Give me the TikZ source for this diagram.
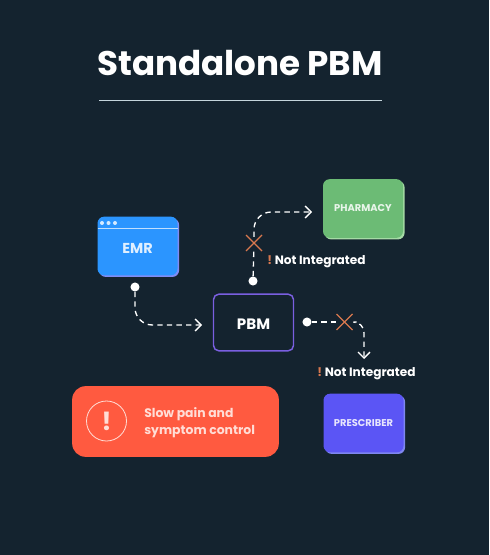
\documentclass[tikz,border=0pt]{standalone}
\usepackage{fontspec}
\setmainfont{Poppins}
\newfontfamily\semifont{Poppins}[UprightFont=* Bold]
\usepackage{tikz}
\usetikzlibrary{arrows.meta,shapes.misc,positioning,calc}
\definecolor{bgdark}{HTML}{14232F}
\definecolor{emrblue}{HTML}{2B95FF}
\definecolor{emredge}{HTML}{7F8CF5}
\definecolor{pbmline}{HTML}{7A5FE0}
\definecolor{pharmgreen}{HTML}{6CBB75}
\definecolor{pharmedge}{HTML}{A5DBA5}
\definecolor{prescblue}{HTML}{5B55F5}
\definecolor{prescedge}{HTML}{7E86F0}
\definecolor{alertred}{HTML}{FF5A40}
\definecolor{alertpink}{HTML}{FFDDD6}
\definecolor{crossorange}{HTML}{D8784F}
\definecolor{ruleline}{HTML}{C5D5DC}
\tikzset{
    appbox/.style={rounded corners=5pt, inner sep=0pt, minimum width=60pt, minimum height=44pt,
        text=#1!15!white, font=\semifont\fontsize{7.4}{10}\selectfont},
    startdot/.style={circle, fill=white, inner sep=0pt, minimum size=6.8pt},
    nolink/.style={cross out, draw=crossorange, line width=1pt, inner sep=0pt, minimum size=11pt},
    flow/.style={white, line width=1pt, dash pattern=on 4pt off 3.2pt, rounded corners=13pt,
        -{Straight Barb[length=4.5pt,width=9pt,line width=1pt]}},
    flowpart/.style={white, line width=1pt, dash pattern=on 4pt off 3.2pt},
    warnlabel/.style={white, font=\semifont\fontsize{9.1}{11}\selectfont, inner sep=0pt, anchor=west},
}
\begin{document}
\begin{tikzpicture}[x=0.75pt,y=-0.75pt]
    % Background
    \fill[bgdark] (0,0) rectangle (489,555);
    \useasboundingbox (0,0) rectangle (489,555);

    % Title
    \node[white, font=\semifont\fontsize{25.6}{32}\selectfont, inner sep=0pt] (title) at (240,63) {Standalone PBM};
    \draw[ruleline, line width=.7pt] (99,100.5) -- (382,100.5);

    % Boxes
    \node[appbox=emrblue, fill=emrblue, font=\semifont\fontsize{10.8}{12}\selectfont,
        preaction={fill=emredge, transform canvas={xshift=1.2pt,yshift=-1.2pt}}] (emr) at (137.5,246) {\raisebox{-6pt}[0pt][0pt]{EMR}};
    \node[appbox=pharmgreen, fill=pharmgreen, preaction={fill=pharmedge, transform canvas={xshift=1.2pt,yshift=-1.2pt}}] (pharmacy) at (363,208.5) {PHARMACY};
    \node[appbox=prescblue, fill=prescblue, preaction={fill=prescedge, transform canvas={xshift=1.2pt,yshift=-1.2pt}}] (prescriber) at (363.5,423) {PRESCRIBER};
    \node[draw=pbmline, line width=1.1pt, rounded corners=4pt, inner sep=0pt, minimum width=60pt, minimum height=42.5pt,
        text=white, font=\semifont\fontsize{11.3}{12}\selectfont] (pbm) at (253.5,322.5) {\raisebox{-5pt}[0pt][0pt]{PBM}};

    % EMR window bar
    \draw[white!70!emrblue, line width=.7pt] (97.5,228) -- (178,228);
    \foreach \dotx in {102,108.5,115}
        \fill[white!80!emrblue] (\dotx,223) circle (1.5pt);

    % Connectors
    \node[startdot] (emrdot) at (135,287) {};
    \node[startdot] (updot) at (253,281) {};
    \node[startdot] (rightdot) at (307,322) {};
    \node[nolink] (upcross) at (254,243) {};
    \node[nolink] (rightcross) at (344.5,322) {};
    \coordinate (pharmacyend) at (312,212);
    \coordinate (pbmend) at (202,325);
    \coordinate (prescriberend) at (364,359);

    \draw[flow] (emrdot) |- (pbmend);
    \draw[flowpart] (updot) -- (upcross);
    \draw[flow] (upcross.north) ++(0,2) |- (pharmacyend);
    \draw[flowpart] (rightdot) -- (rightcross);
    \draw[flow, rounded corners=8pt] (rightcross.east) ++(4,0) -| (prescriberend);

    % Warnings
    \node[warnlabel] (warnup) at (267,261.5) {{\color{crossorange}!}\hspace{-.5pt} Not Integrated};
    \node[warnlabel] (warnright) at (317,373.5) {{\color{crossorange}!}\hspace{-.5pt} Not Integrated};

    % Alert
    \node[fill=alertred, rounded corners=10pt, inner sep=0pt, minimum width=155pt, minimum height=53pt] (alert) at (175.5,421.5) {};
    \node[circle, draw=alertpink, line width=.6pt, inner sep=0pt, minimum size=30pt, text=alertpink,
        font=\semifont\fontsize{19}{20}\selectfont] (alerticon) at (106.5,421) {!};
    \node[text=alertpink, font=\semifont\fontsize{9.3}{13}\selectfont, align=left, anchor=west, inner sep=0pt] (alerttext) at (144,422.5) {Slow pain and\\symptom control};
\end{tikzpicture}
\end{document}
